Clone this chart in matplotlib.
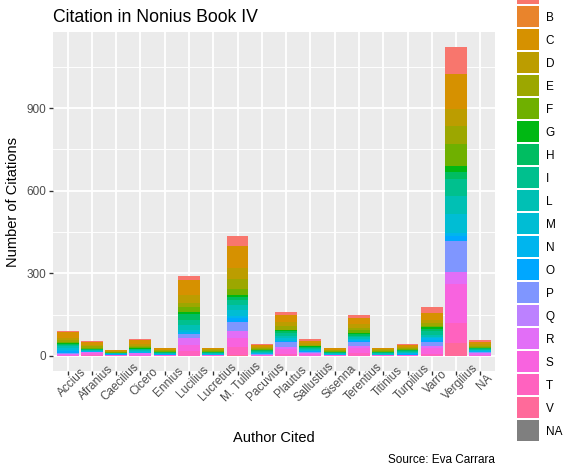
import numpy as np
import matplotlib
matplotlib.use("Agg")
import matplotlib.pyplot as plt
from matplotlib.patches import Patch

plt.rcParams["font.family"] = ["Liberation Sans", "DejaVu Sans"]

autores = ["Accius", "Afranius", "Caecilius", "Cicero", "Ennius", "Lucilius",
           "Lucretius", "M. Tullius", "Pacuvius", "Plautus", "Sallustius",
           "Sisenna", "Terentius", "Titinius", "Turpilius", "Varro",
           "Vergilius", "NA"]

# citas por libro (letra) y autor, en el mismo orden que autores
cit_A = [4, 4, 1, 4, 2, 16, 2, 34, 3, 11, 6, 2, 10, 2, 3, 23, 97, 6]
cit_B = [0, 0, 0, 0, 0, 0, 0, 0, 0, 0, 0, 0, 0, 0, 0, 0, 0, 0]
cit_C = [22, 11, 4, 17, 5, 55, 4, 81, 7, 24, 10, 5, 22, 4, 7, 24, 125, 10]
cit_D = [8, 5, 2, 5, 3, 29, 3, 42, 5, 15, 5, 3, 15, 3, 5, 12, 65, 4]
cit_E = [7, 5, 2, 5, 3, 15, 3, 34, 4, 15, 4, 3, 9, 3, 4, 10, 65, 4]
cit_F = [3, 3, 1, 3, 2, 17, 3, 21, 3, 0, 2, 2, 9, 2, 3, 5, 79, 4]
cit_G = [3, 2, 1, 2, 1, 6, 1, 10, 1, 4, 2, 1, 6, 2, 1, 5, 22, 2]
cit_H = [4, 2, 1, 3, 2, 24, 2, 10, 3, 7, 4, 2, 5, 3, 3, 10, 24, 3]
cit_I = [5, 2, 1, 3, 2, 18, 2, 17, 3, 10, 4, 2, 5, 2, 3, 13, 64, 3]
cit_L = [6, 2, 1, 4, 2, 18, 2, 18, 3, 9, 4, 2, 5, 2, 3, 6, 62, 2]
cit_M = [6, 2, 1, 3, 2, 7, 2, 22, 3, 9, 4, 2, 5, 2, 3, 6, 69, 2]
cit_N = [6, 1, 1, 2, 0, 5, 1, 8, 2, 0, 0, 1, 3, 1, 2, 6, 11, 2]
cit_O = [6, 1, 1, 1, 1, 0, 0, 13, 1, 6, 3, 1, 3, 0, 2, 6, 18, 2]
cit_P = [4, 2, 2, 2, 2, 17, 2, 36, 2, 18, 3, 2, 16, 2, 2, 16, 113, 5]
cit_Q = [0, 0, 0, 0, 0, 0, 0, 0, 0, 0, 0, 0, 0, 0, 0, 0, 0, 0]
cit_R = [4, 4, 1, 4, 0, 24, 1, 24, 2, 8, 4, 0, 8, 0, 0, 8, 44, 4]
cit_S = [3, 7, 2, 5, 3, 22, 2, 33, 2, 17, 6, 2, 16, 2, 3, 20, 142, 5]
cit_T = [0, 2, 0, 0, 0, 18, 0, 28, 0, 7, 1, 0, 12, 0, 0, 8, 73, 0]
cit_V = [0, 0, 0, 0, 0, 0, 0, 4, 0, 0, 0, 0, 0, 0, 0, 0, 47, 0]
cit_NA = [0, 0, 0, 0, 0, 0, 0, 0, 0, 0, 0, 0, 0, 0, 0, 0, 0, 0]

libros = ["A", "B", "C", "D", "E", "F", "G", "H", "I", "L", "M", "N", "O",
          "P", "Q", "R", "S", "T", "V", "NA"]
series = [cit_A, cit_B, cit_C, cit_D, cit_E, cit_F, cit_G, cit_H, cit_I,
          cit_L, cit_M, cit_N, cit_O, cit_P, cit_Q, cit_R, cit_S, cit_T,
          cit_V, cit_NA]


def hcl_hex(h, c=100, l=65):
    # misma conversion polarLUV -> sRGB que usa R
    u_ = c * np.cos(np.radians(h))
    v_ = c * np.sin(np.radians(h))
    y = 100 * ((l + 16) / 116) ** 3
    t = 13 * l
    u = u_ / t + 0.1978398
    v = v_ / t + 0.4683363
    x = 9.0 * y * u / (4 * v)
    z = -x / 3 - 5 * y + 3 * y / v
    rgb = [3.240479 * x - 1.537150 * y - 0.498535 * z,
           -0.969256 * x + 1.875992 * y + 0.041556 * z,
           0.055648 * x - 0.204043 * y + 1.057311 * z]
    out = []
    for comp in rgb:
        comp = comp / 100
        if comp > 0.00304:
            comp = 1.055 * comp ** (1 / 2.4) - 0.055
        else:
            comp = 12.92 * comp
        out.append(min(max(comp, 0), 1))
    return "#%02X%02X%02X" % tuple(int(round(k * 255)) for k in out)


n = len(libros) - 1
hues = np.linspace(15, 375 - 360 / n, n)
colores = [hcl_hex(h) for h in hues] + ["#7F7F7F"]

W, H = 578, 471
fig = plt.figure(figsize=(W / 96, H / 96), dpi=96)
ax = fig.add_axes([53 / W, (H - 371.4) / H, 442 / W, (371.4 - 32) / H])
ax.set_facecolor("#EBEBEB")
for s in ax.spines.values():
    s.set_visible(False)

x = np.arange(len(autores))
base = np.zeros(len(autores))
# se apila desde abajo: NA primero, A queda arriba como en ggplot
for valores, col in zip(series[::-1], colores[::-1]):
    valores = np.array(valores, dtype=float)
    ax.bar(x, valores, bottom=base, width=0.9, color=col, linewidth=0,
           zorder=3)
    base += valores

total_max = base.max()
ax.set_xlim(-0.6, len(autores) - 0.4)
ax.set_ylim(-0.05 * total_max, 1.05 * total_max)

ax.set_yticks([0, 300, 600, 900])
ax.set_yticks([150, 450, 750, 1050], minor=True)
ax.set_xticks(x)
ax.set_xticklabels(autores)
plt.setp(ax.get_xticklabels(), rotation=45, ha="center", va="top",
         rotation_mode="anchor")

ax.grid(which="major", color="white", linewidth=1.42, zorder=0)
ax.grid(which="minor", axis="y", color="white", linewidth=0.71, zorder=0)
ax.set_axisbelow(True)
ax.tick_params(which="major", length=2.75, width=1.0, color="#333333",
               labelsize=8.8, labelcolor="#4D4D4D", pad=2.2)
ax.tick_params(which="minor", length=0)

fig.text(53 / W, 1 - 22 / H, "Citation in Nonius Book IV", fontsize=13.2,
         ha="left", va="baseline")
fig.text(274 / W, 1 - 441.7 / H, "Author Cited", fontsize=11,
         ha="center", va="baseline")
fig.text(17 / W, 1 - 201.7 / H, "Number of Citations", fontsize=11,
         ha="center", va="baseline", rotation=90, rotation_mode="anchor")
fig.text(495 / W, 1 - 462.7 / H, "Source: Eva Carrara", fontsize=8.8,
         ha="right", va="baseline")

# la leyenda de ggplot no cabe: la letra A queda cortada arriba
fs = 8.8 * 96 / 72
alto_clave = 21.2 / fs
handles = [Patch(facecolor=c, edgecolor="none", label=lb)
           for c, lb in zip(colores, libros)]
fig.legend(handles=handles, loc="upper left",
           bbox_to_anchor=(516.7 / W, 1 + 16.7 / H), frameon=False,
           fontsize=8.8, handlelength=21.8 / fs,
           handleheight=(alto_clave - 0.245) / 0.65,
           labelspacing=1.8 / fs, handletextpad=0.6, borderpad=0,
           borderaxespad=0)

fig.savefig("out.png", dpi=96)
